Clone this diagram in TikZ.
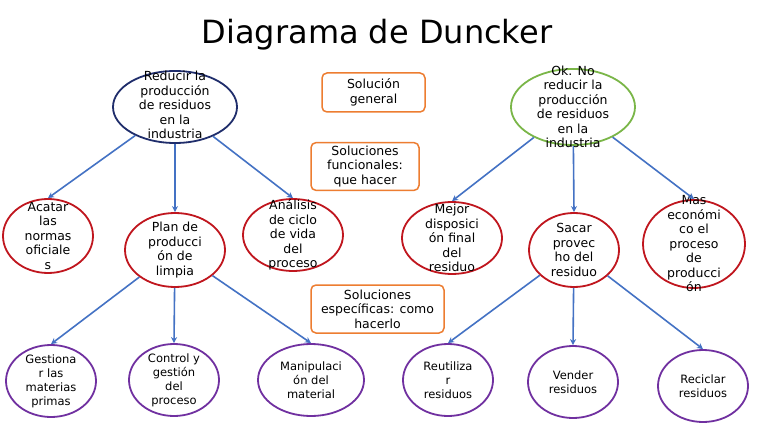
\documentclass[tikz,border=0pt]{standalone}
\usepackage{fontspec}
\setmainfont{DejaVu Sans}
\usetikzlibrary{shapes.geometric,arrows.meta}
\definecolor{navyc}{HTML}{1F2D6B}
\definecolor{greenc}{HTML}{7AB648}
\definecolor{redc}{HTML}{C0161E}
\definecolor{purc}{HTML}{7030A0}
\definecolor{orc}{HTML}{ED7D31}
\definecolor{bluec}{HTML}{4472C4}
\tikzset{
 ell/.style={ellipse,draw,line width=1.8pt,inner sep=0pt},
 txt/.style={align=center,font=\fontsize{12.5}{14.5}\selectfont,inner sep=0pt},
 stxt/.style={align=center,font=\fontsize{11.5}{14}\selectfont,inner sep=0pt},
 obox/.style={draw=orc,line width=1.5pt,rounded corners=5pt,align=center,font=\fontsize{12.5}{14.5}\selectfont},
 arr/.style={draw=bluec,line width=1.6pt,-{Stealth[length=6pt,width=6pt]}}
}
\begin{document}
\begin{tikzpicture}[x=1pt,y=-1pt]
\useasboundingbox[fill=white] (0,0) rectangle (768,433);
\node[font=\fontsize{32}{36}\selectfont] (title) at (377,35) {Diagrama de Duncker};
% top ellipses
\node[ell,draw=navyc,minimum width=124pt,minimum height=72pt] (L) at (175,107) {};
\node[txt] (Lt) at (175,105) {Reducir la\\producción\\de residuos\\en la\\industria};
\node[ell,draw=greenc,minimum width=124pt,minimum height=76pt] (R) at (573,107) {};
\node[txt] (Rt) at (573,107) {Ok. No\\reducir la\\producción\\de residuos\\en la\\industria};
% boxes
\node[obox,minimum width=103pt,minimum height=39pt] (b1) at (373.5,92.5) {Solución\\general};
\node[obox,minimum width=108pt,minimum height=47pt] (b2) at (365,166.5) {Soluciones\\funcionales:\\que hacer};
\node[obox,minimum width=133pt,minimum height=48pt] (b3) at (377.5,309) {Soluciones\\específicas: como\\hacerlo};
% middle ellipses
\foreach \n/\x/\y/\w/\h/\t in {
 A/48/236/90/74/{Acatar\\las\\normas\\oficiale\\s},
 P/175/250/100/74/{Plan de\\producci\\ón de\\limpia},
 N/293/235/100/72/{Análisis\\de ciclo\\de vida\\del\\proceso},
 M/452/238/100/72/{Mejor\\disposici\\ón final\\del\\residuo},
 S/574/250/90/74/{Sacar\\provec\\ho del\\residuo},
 E/694/244/102/88/{Mas\\económi\\co el\\proceso\\de\\producci\\ón}}
{\node[ell,draw=redc,minimum width=\w pt,minimum height=\h pt] (\n) at (\x,\y) {};
 \node[txt] (\n t) at (\x,\y) {\t};}
% bottom ellipses
\foreach \n/\x/\y/\w/\t in {
 G/51/381/90/{Gestiona\\r las\\materias\\primas},
 C/174/380/90/{Control y\\gestión\\del\\proceso},
 U/311/380/106/{Manipulaci\\ón del\\material},
 T/448/380/90/{Reutiliza\\r\\residuos},
 V/573/382/90/{Vender\\residuos},
 K/703/386/90/{Reciclar\\residuos}}
{\node[ell,draw=purc,minimum width=\w pt,minimum height=72pt] (\n) at (\x,\y) {};
 \node[stxt] (\n t) at (\x,\y) {\t};}
% arrows
\draw[arr] (L) -- (A.north);
\draw[arr] (L) -- (P.north);
\draw[arr] (L) -- (N.north);
\draw[arr] (R) -- (M.north);
\draw[arr] (R) -- (S.north);
\draw[arr] (R) -- (E.north);
\draw[arr] (P) -- (G.north);
\draw[arr] (P) -- (C.north);
\draw[arr] (P) -- (U.north);
\draw[arr] (S) -- (T.north);
\draw[arr] (S) -- (V.north);
\draw[arr] (S) -- (K.north);
\end{tikzpicture}
\end{document}
